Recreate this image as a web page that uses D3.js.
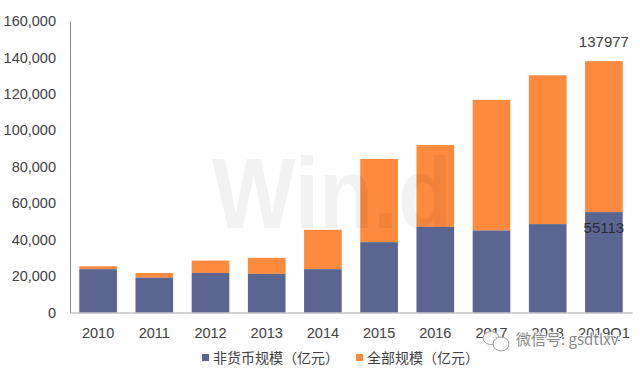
<!DOCTYPE html>
<html>
<head>
<meta charset="utf-8">
<script src="https://cdn.jsdelivr.net/npm/d3@7"></script>
<style>
  html, body { margin: 0; padding: 0; background: #fff; }
  text { font-family: "Liberation Sans", Arial, sans-serif; fill: #404040; }
</style>
</head>
<body>
<svg id="chart" width="640" height="370"></svg>
<script>
const categories = ['2010', '2011', '2012', '2013', '2014', '2015', '2016', '2017', '2018', '2019Q1'];
const nonMonetary = [23800, 19100, 21700, 21200, 23800, 38600, 47000, 45000, 48500, 55113];
const total = [25400, 21700, 28500, 30000, 45400, 84300, 91900, 116700, 130200, 137977];
const yTicks = [0, 20000, 40000, 60000, 80000, 100000, 120000, 140000, 160000];
const seriesNames = ['非货币规模（亿元）', '全部规模（亿元）'];

const margin = { top: 21, right: 8, bottom: 57.5, left: 70 };
const width = 640 - margin.left - margin.right;
const height = 370 - margin.top - margin.bottom;

const navy = '#5b6591';
const orange = '#fe8a3d';

const x = d3.scaleBand()
  .domain(categories)
  .range([0, width])
  .paddingInner(0.33)
  .paddingOuter(0.165);

const y = d3.scaleLinear()
  .domain([0, 160000])
  .range([height, 0]);

const svg = d3.select('#chart');
const g = svg.append('g')
  .attr('transform', `translate(${margin.left},${margin.top})`);

// orange runs from the navy top up to the total
g.selectAll('rect.all')
  .data(categories)
  .join('rect')
  .attr('class', 'all')
  .attr('x', d => x(d))
  .attr('width', x.bandwidth())
  .attr('y', (d, i) => y(total[i]))
  .attr('height', (d, i) => y(nonMonetary[i]) - y(total[i]))
  .attr('fill', orange);

g.selectAll('rect.non')
  .data(categories)
  .join('rect')
  .attr('class', 'non')
  .attr('x', d => x(d))
  .attr('width', x.bandwidth())
  .attr('y', (d, i) => y(nonMonetary[i]))
  .attr('height', (d, i) => y(0) - y(nonMonetary[i]))
  .attr('fill', navy);

const yAxis = g.append('g')
  .call(d3.axisLeft(y).tickValues(yTicks).tickSize(0).tickPadding(14).tickFormat(d3.format(',')));
yAxis.select('.domain').attr('stroke', '#8c8c8c').attr('stroke-width', 1);
yAxis.selectAll('text').style('font-size', '14.5px');

const xAxis = g.append('g')
  .attr('transform', `translate(0,${height})`)
  .call(d3.axisBottom(x).tickSize(0).tickPadding(15));
xAxis.select('.domain').attr('stroke', '#a6a6a6').attr('stroke-width', 1);
xAxis.selectAll('text').style('font-size', '14.5px');

// end labels on the last bar
const last = categories.length - 1;
g.append('text')
  .attr('x', x(categories[last]) + x.bandwidth() / 2)
  .attr('y', y(total[last]) - 14)
  .attr('text-anchor', 'middle')
  .style('font-size', '15px')
  .text(total[last]);
g.append('text')
  .attr('x', x(categories[last]) + x.bandwidth() / 2)
  .attr('y', y(nonMonetary[last]) + 21)
  .attr('text-anchor', 'middle')
  .style('font-size', '15px')
  .style('fill', '#2b2b38')
  .text(nonMonetary[last]);

// legend
const legend = svg.append('g');
[[202, navy, 213], [356, orange, 367]].forEach(([sx, c, tx], i) => {
  legend.append('rect').attr('x', sx).attr('y', 354).attr('width', 7).attr('height', 7).attr('fill', c);
  legend.append('text')
    .attr('x', tx)
    .attr('y', 363)
    .style('font-family', '"Noto Sans CJK SC"')
    .style('font-size', '14px')
    .text(seriesNames[i]);
});

// Wind watermark
svg.append('text')
  .attr('x', 212)
  .attr('y', 228)
  .attr('textLength', 240)
  .attr('lengthAdjust', 'spacingAndGlyphs')
  .style('font-size', '100px')
  .style('font-weight', 'bold')
  .style('fill', 'rgba(0,0,0,0.05)')
  .text('Win.d');

// WeChat stamp, it sits over the x labels
const stamp = svg.append('g').attr('fill', 'rgba(255,255,255,0.85)').attr('stroke', '#a0a0a0').attr('stroke-width', 1);
stamp.append('ellipse').attr('cx', 491).attr('cy', 338).attr('rx', 8).attr('ry', 6.5);
stamp.append('ellipse').attr('cx', 501).attr('cy', 344).attr('rx', 8).attr('ry', 7);
svg.append('text')
  .attr('x', 516)
  .attr('y', 345)
  .style('font-family', '"Noto Sans CJK SC"')
  .style('font-size', '15px')
  .style('fill', 'rgba(120,120,120,0.9)')
  .style('paint-order', 'stroke')
  .style('stroke', 'rgba(255,255,255,0.85)')
  .style('stroke-width', '2px')
  .text('微信号: gsdtlxv');
</script>
</body>
</html>
